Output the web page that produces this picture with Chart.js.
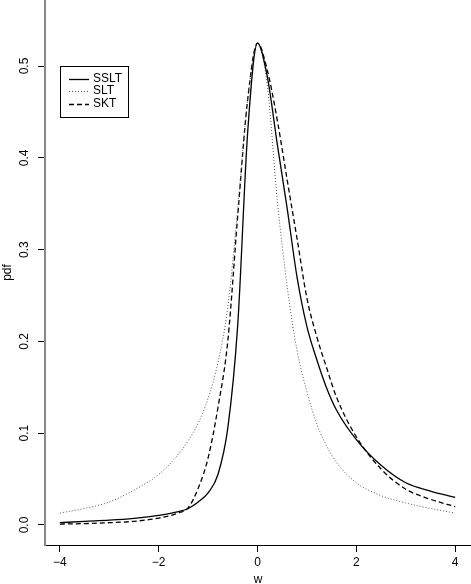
<!DOCTYPE html>
<html>
<head>
<meta charset="utf-8">
<script src="https://cdn.jsdelivr.net/npm/chart.js@4"></script>
<style>
html,body{margin:0;padding:0;background:#fff;}
#wrap{width:471px;height:584px;position:relative;}
</style>
</head>
<body>
<div id="wrap"><canvas id="c"></canvas></div>
<script>
// ---- data ----
const w = [-4,-3.5,-3,-2.5,-2,-1.6,-1.4,-1.2,-1.0,-0.8,-0.6,-0.4,-0.2,0,0.2,0.4,0.6,0.8,1.0,1.2,1.4,1.6,2.0,2.5,3.0,3.5,4.0];
const sslt = [0.0025,0.004,0.0053,0.0073,0.0105,0.0145,0.018,0.025,0.035,0.055,0.106,0.218,0.427,0.525,0.488,0.415,0.345,0.270,0.216,0.180,0.149,0.125,0.093,0.065,0.046,0.037,0.030];
const slt  = [0.013,0.018,0.025,0.038,0.055,0.077,0.092,0.111,0.138,0.177,0.238,0.345,0.463,0.525,0.478,0.354,0.260,0.190,0.145,0.110,0.086,0.068,0.046,0.032,0.024,0.018,0.013];
const skt  = [0.001,0.0015,0.0025,0.004,0.0075,0.013,0.019,0.040,0.073,0.128,0.201,0.337,0.463,0.525,0.495,0.441,0.376,0.312,0.247,0.205,0.171,0.139,0.096,0.061,0.039,0.028,0.020];
const seriesNames = ['SSLT','SLT','SKT'];
const xTicks = [-4,-2,0,2,4];
const xTickLabels = ['\u22124','\u22122','0','2','4'];
const yTicks = [0,0.1,0.2,0.3,0.4,0.5];
const yTickLabels = ['0.0','0.1','0.2','0.3','0.4','0.5'];
const xTitle = 'w';
const yTitle = 'pdf';

const FONT = '"Liberation Sans", Arial, Helvetica, sans-serif';
const toPts = ys => w.map((x,i)=>({x:x,y:ys[i]}));

const yLabelPlugin = {
  id:'yLabels',
  afterDraw(chart){
    const ctx = chart.ctx, ys = chart.scales.y;
    ctx.save();
    ctx.fillStyle = '#000';
    ctx.font = '12px ' + FONT;
    ctx.textAlign = 'center';
    ctx.textBaseline = 'middle';
    yTicks.forEach((v,i)=>{
      const py = ys.getPixelForValue(v);
      ctx.save();
      ctx.translate(25, py);
      ctx.rotate(-Math.PI/2);
      ctx.fillText(yTickLabels[i], 0, 0);
      ctx.restore();
    });
    ctx.restore();
  }
};

const legendPlugin = {
  id:'boxLegend',
  afterDraw(chart){
    const ctx = chart.ctx;
    ctx.save();
    ctx.strokeStyle = '#000';
    ctx.lineWidth = 1;
    ctx.strokeRect(60.5, 66.5, 68, 51);
    const rows = [79, 91, 104];
    ctx.font = '12px ' + FONT;
    ctx.textBaseline = 'middle';
    ctx.textAlign = 'left';
    chart.data.datasets.forEach((ds,i)=>{
      ctx.beginPath();
      ctx.strokeStyle = ds.borderColor;
      ctx.lineWidth = ds.borderWidth;
      ctx.setLineDash(ds.borderDash || []);
      ctx.moveTo(69, rows[i] + 0.5);
      ctx.lineTo(89, rows[i] + 0.5);
      ctx.stroke();
      ctx.setLineDash([]);
      ctx.fillStyle = '#000';
      ctx.fillText(ds.label, 93, rows[i]);
    });
    ctx.restore();
  }
};

new Chart(document.getElementById('c'), {
  type: 'line',
  data: {
    datasets: [
      {label: seriesNames[0], data: toPts(sslt), borderColor:'#000', borderWidth:1.3, borderDash:[], pointRadius:0, cubicInterpolationMode:'monotone', fill:false},
      {label: seriesNames[1], data: toPts(slt), borderColor:'#555', borderWidth:1, borderDash:[1,2], pointRadius:0, cubicInterpolationMode:'monotone', fill:false},
      {label: seriesNames[2], data: toPts(skt), borderColor:'#000', borderWidth:1.3, borderDash:[5,3], pointRadius:0, cubicInterpolationMode:'monotone', fill:false}
    ]
  },
  options: {
    responsive: true,
    maintainAspectRatio: false,
    animation: false,
    layout: {padding: 0},
    plugins: {legend:{display:false}, tooltip:{enabled:false}},
    scales: {
      x: {
        type:'linear', min:-4.30, max:4.32,
        afterBuildTicks: s => { s.ticks = xTicks.map(v=>({value:v})); },
        afterFit: s => { s.height = 39; },
        grid: {drawOnChartArea:false, drawTicks:true, tickLength:7, color:'#000', lineWidth:1},
        border: {display:true, color:'#000', width:1},
        ticks: {color:'#000', font:{family:FONT, size:12}, padding:3, maxRotation:0, minRotation:0,
                callback: (v,i) => xTickLabels[i]},
        title: {display:true, text:xTitle, color:'#000', font:{family:FONT, size:12}, padding:{top:0,bottom:-3}}
      },
      y: {
        type:'linear', min:-0.0218, max:0.5719,
        afterBuildTicks: s => { s.ticks = yTicks.map(v=>({value:v})); },
        afterFit: s => { s.width = 45; },
        grid: {drawOnChartArea:false, drawTicks:true, tickLength:7, color:'#000', lineWidth:1},
        border: {display:true, color:'#888', width:2},
        ticks: {display:false},
        title: {display:true, text:yTitle, color:'#000', font:{family:FONT, size:12}, padding:{top:0,bottom:0}}
      }
    }
  },
  plugins: [yLabelPlugin, legendPlugin]
});
</script>
</body>
</html>
